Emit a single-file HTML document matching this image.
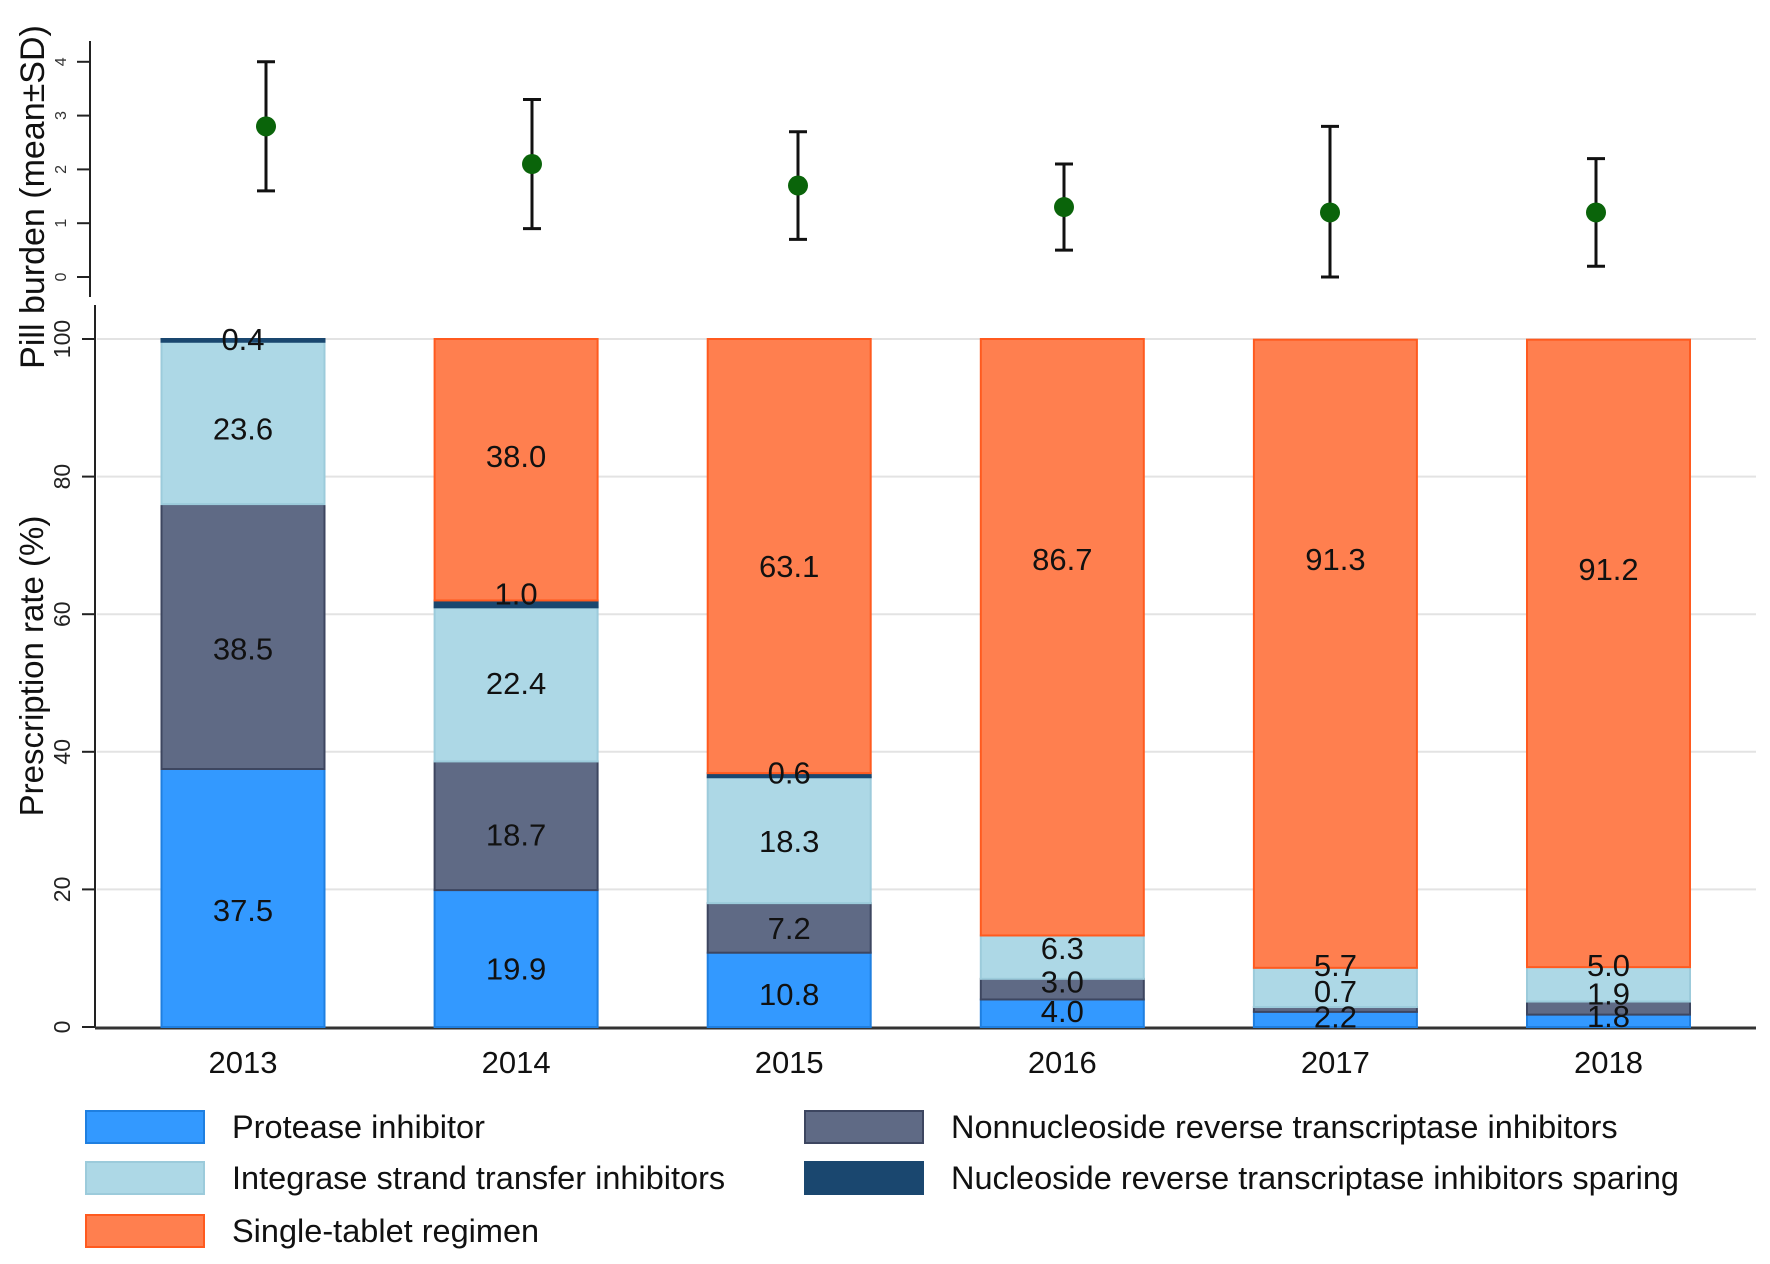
<!DOCTYPE html>
<html><head><meta charset="utf-8"><style>
body{margin:0;background:#fff;}
svg{display:block;font-family:"Liberation Sans",Arial,sans-serif;}
</style></head><body>
<svg id="c" width="1770" height="1264" viewBox="0 0 1770 1264"></svg>
<script>
const years=["2013","2014","2015","2016","2017","2018"];
const piVals=[37.5,19.9,10.8,4.0,2.2,1.8];
const nnrtiVals=[38.5,18.7,7.2,3.0,0.7,1.9];
const instiVals=[23.6,22.4,18.3,6.3,5.7,5.0];
const nrtiVals=[0.4,1.0,0.6,0,0,0];
const strVals=[0,38.0,63.1,86.7,91.3,91.2];
// label anchor positions (in % units) as printed in the figure
const piLabelAt=[17,8.5,4.8,2.3,1.5,1.6];
const nnrtiLabelAt=[55,28,14.4,6.6,5.2,4.9];
const instiLabelAt=[87,50,27,11.5,9,9];
const nrtiLabelAt=[100,63,37,0,0,0];
const strLabelAt=[0,83,67,68,68,66.6];
const pillMean=[2.8,2.1,1.7,1.3,1.2,1.2];
const pillLo=[1.6,0.9,0.7,0.5,0.0,0.2];
const pillHi=[4.0,3.3,2.7,2.1,2.8,2.2];
const yTicks=[0,20,40,60,80,100];
const pTicks=[0,1,2,3,4];

const NS="http://www.w3.org/2000/svg";
const svg=document.getElementById('c');
function mk(t,a,p){const e=document.createElementNS(NS,t);for(const k in a)e.setAttribute(k,a[k]);(p||svg).appendChild(e);return e;}
const yB=v=>1027-v*6.88;
const xB=i=>243+i*273.1;
const yP=v=>277-v*53.8;
const xP=i=>266+i*266;
const BW=163;

yTicks.forEach(t=>{
  if(t>0){const g=mk('line',{x1:97,x2:1756,y1:yB(t),y2:yB(t),stroke:'#e3e3e3','stroke-width':2});
  
  }
  const tk=mk('line',{x1:82,x2:95,y1:yB(t),y2:yB(t),stroke:'#222','stroke-width':2});
  
  
  const tl=mk('text',{x:0,y:0,'font-size':23,fill:'#222','text-anchor':'middle',transform:`translate(70,${yB(t)}) rotate(-90)`});
  tl.textContent=t;
  
  
});
let a1=mk('line',{x1:95,x2:95,y1:305,y2:1028,stroke:'#222','stroke-width':2});


let a2=mk('line',{x1:95,x2:1756,y1:1028,y2:1028,stroke:'#333','stroke-width':3});



const series=[
 {vals:piVals,lab:piLabelAt,fill:'#3399ff',stroke:'#1f7fe0',name:'protease-inhibitor'},
 {vals:nnrtiVals,lab:nnrtiLabelAt,fill:'#5f6a85',stroke:'#3d4660',name:'nnrti'},
 {vals:instiVals,lab:instiLabelAt,fill:'#add8e6',stroke:'#9ccbdb',name:'insti'},
 {vals:nrtiVals,lab:nrtiLabelAt,fill:'#1a476f',stroke:'#1a476f',name:'nrti-sparing'},
 {vals:strVals,lab:strLabelAt,fill:'#ff7f4f',stroke:'#ff5a1f',name:'single-tablet'}
];
const labels=[];
years.forEach((y,i)=>{
  let base=0;
  series.forEach(s=>{
    const v=s.vals[i];
    if(v>0){
      const r=mk('rect',{x:xB(i)-BW/2,y:yB(base+v),width:BW,height:yB(base)-yB(base+v),fill:s.fill,stroke:s.stroke,'stroke-width':2});
      
      
      labels.push([xB(i),yB(s.lab[i])+11,v.toFixed(1)]);
    }
    base+=v;
  });
  const xl=mk('text',{x:xB(i),y:1073,'font-size':31,fill:'#111','text-anchor':'middle'});
  xl.textContent=y;
  
  
});
labels.forEach(l=>{
  const tx=mk('text',{x:l[0],y:l[1],'font-size':31,fill:'#111','text-anchor':'middle'});
  tx.textContent=l[2];
  
  
});

let a3=mk('line',{x1:90,x2:90,y1:41,y2:297,stroke:'#222','stroke-width':2});


pTicks.forEach(t=>{
  const tk=mk('line',{x1:77,x2:90,y1:yP(t),y2:yP(t),stroke:'#222','stroke-width':2});
  
  
  const tl=mk('text',{x:0,y:0,'font-size':16,fill:'#333','text-anchor':'middle',transform:`translate(66,${yP(t)}) rotate(-90)`});
  tl.textContent=t;
  
  
});
years.forEach((y,i)=>{
  const x=xP(i);
  const e=mk('line',{x1:x,x2:x,y1:yP(pillHi[i]),y2:yP(pillLo[i]),stroke:'#111','stroke-width':3});
  
  
  [pillHi[i],pillLo[i]].forEach(v=>{
    const c=mk('line',{x1:x-9,x2:x+9,y1:yP(v),y2:yP(v),stroke:'#111','stroke-width':3});
    
    
  });
  const p=mk('circle',{cx:x,cy:yP(pillMean[i]),r:10,fill:'#0a640a'});
  
  
});

let t1=mk('text',{x:0,y:0,'font-size':34,fill:'#111','text-anchor':'middle',transform:'translate(44,197) rotate(-90)'});
t1.textContent='Pill burden (mean±SD)';


let t2=mk('text',{x:0,y:0,'font-size':33,fill:'#111','text-anchor':'middle',transform:'translate(43,666) rotate(-90)'});
t2.textContent='Prescription rate (%)';



const legend=[
 ['Protease inhibitor','#3399ff','#1f7fe0',86,1127],
 ['Nonnucleoside reverse transcriptase inhibitors','#5f6a85','#3d4660',805,1127],
 ['Integrase strand transfer inhibitors','#add8e6','#9ccbdb',86,1178],
 ['Nucleoside reverse transcriptase inhibitors sparing','#1a476f','#1a476f',805,1178],
 ['Single-tablet regimen','#ff7f4f','#ff5a1f',86,1231]
];
legend.forEach(l=>{
  const r=mk('rect',{x:l[3],y:l[4]-16,width:118,height:32,fill:l[1],stroke:l[2],'stroke-width':2});
  
  
  const t=mk('text',{x:l[3]+146,y:l[4]+11,'font-size':32.5,fill:'#111'});
  t.textContent=l[0];
  
  
});
</script>
</body></html>
